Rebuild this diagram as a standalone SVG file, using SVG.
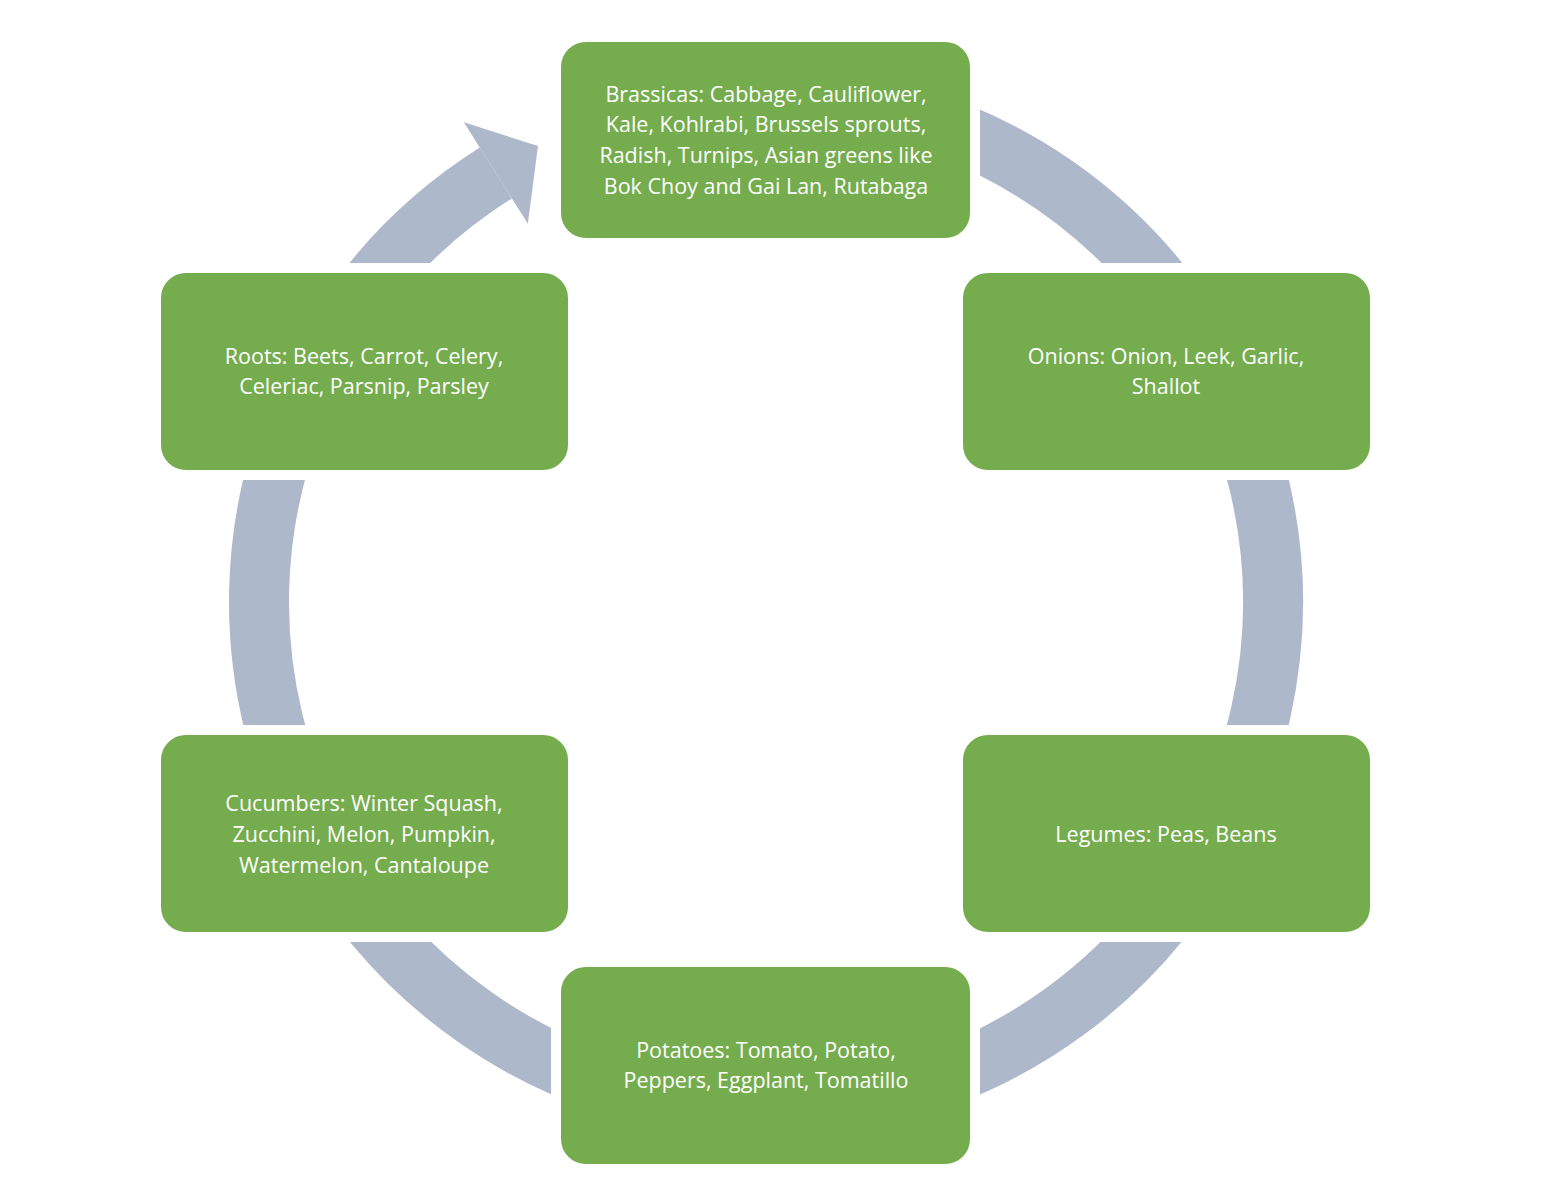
<svg xmlns="http://www.w3.org/2000/svg" width="1546" height="1198" viewBox="0 0 1546 1198">
<style>
.box{fill:#75ac4e;stroke:#fff;stroke-width:10}
.t{fill:#fff;font-family:"Open Sans","Liberation Sans",sans-serif;font-size:21.5px;text-anchor:middle}
</style>
<rect width="1546" height="1198" fill="#fff"/>
<g id="connectors">
<path d="M678,102.7 A507,507 0 1 1 495.8,173" fill="none" stroke="#adb9ca" stroke-width="60"/>
<polygon points="463.8,122.2 538,146 527.8,223.8" fill="#adb9ca"/>
</g>
<g id="brassicas"><rect class="box" x="556" y="37" width="419" height="206" rx="30"/>
<text class="t"><tspan x="766" y="102">Brassicas: Cabbage, Cauliflower,</tspan><tspan x="766" y="132">Kale, Kohlrabi, Brussels sprouts,</tspan><tspan x="766" y="163">Radish, Turnips, Asian greens like</tspan><tspan x="766" y="194">Bok Choy and Gai Lan, Rutabaga</tspan></text></g>
<g id="onions"><rect class="box" x="958" y="268" width="417" height="207" rx="30"/>
<text class="t"><tspan x="1166" y="364">Onions: Onion, Leek, Garlic,</tspan><tspan x="1166" y="394">Shallot</tspan></text></g>
<g id="legumes"><rect class="box" x="958" y="730" width="417" height="207" rx="30"/>
<text class="t"><tspan x="1166" y="842">Legumes: Peas, Beans</tspan></text></g>
<g id="potatoes"><rect class="box" x="556" y="962" width="419" height="207" rx="30"/>
<text class="t"><tspan x="766" y="1058">Potatoes: Tomato, Potato,</tspan><tspan x="766" y="1088">Peppers, Eggplant, Tomatillo</tspan></text></g>
<g id="cucumbers"><rect class="box" x="156" y="730" width="417" height="207" rx="30"/>
<text class="t"><tspan x="364" y="811">Cucumbers: Winter Squash,</tspan><tspan x="364" y="842">Zucchini, Melon, Pumpkin,</tspan><tspan x="364" y="873">Watermelon, Cantaloupe</tspan></text></g>
<g id="roots"><rect class="box" x="156" y="268" width="417" height="207" rx="30"/>
<text class="t"><tspan x="364" y="364">Roots: Beets, Carrot, Celery,</tspan><tspan x="364" y="394">Celeriac, Parsnip, Parsley</tspan></text></g>
</svg>
